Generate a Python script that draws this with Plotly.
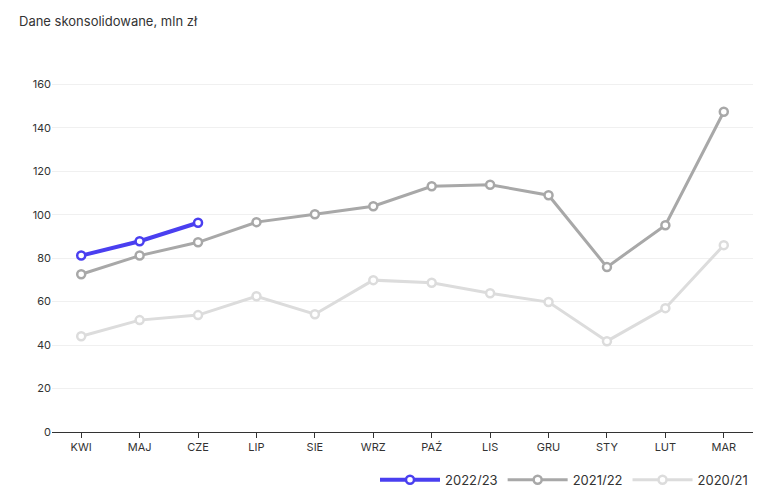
import plotly.graph_objects as go

months = ["KWI","MAJ","CZE","LIP","SIE","WRZ","PAŹ","LIS","GRU","STY","LUT","MAR"]
s2223 = [81.2, 87.8, 96.3]
s2122 = [72.6, 81.2, 87.3, 96.6, 100.2, 103.9, 113.1, 113.8, 109.0, 75.9, 95.2, 147.4]
s2021 = [44.1, 51.5, 53.8, 62.5, 54.2, 69.9, 68.7, 63.9, 59.8, 41.8, 57.0, 86.0]

fig = go.Figure()
for name, vals, col, w in [("2020/21", s2021, "#dcdcdc", 3),
                           ("2021/22", s2122, "#a8a8a8", 3),
                           ("2022/23", s2223, "#4a3ff0", 4)]:
    fig.add_trace(go.Scatter(x=months[:len(vals)], y=vals, name=name, mode="lines+markers",
                             line=dict(color=col, width=w),
                             marker=dict(size=8, color="white", line=dict(color=col, width=2.5))))

fig.add_annotation(text="<b>MIESIĘCZNE PRZYCHODY GRUPY GRODNO S.A</b>", xref="paper", yref="paper",
                   x=-0.05, y=1.19, xanchor="left", yanchor="middle", showarrow=False,
                   font=dict(size=14, color="#111"))
fig.add_annotation(text="Dane skonsolidowane, mln zł", xref="paper", yref="paper",
                   x=-0.05, y=1.125, xanchor="left", yanchor="middle", showarrow=False,
                   font=dict(size=13, color="#333"))

fig.update_layout(
    width=770, height=485, plot_bgcolor="white", paper_bgcolor="white",
    font=dict(family="Inter, Lato, sans-serif", size=11, color="#333"),
    margin=dict(l=44, r=25, t=59, b=61, autoexpand=False),
    xaxis=dict(showgrid=False, showline=True, linecolor="#333", ticks="outside", ticklen=5,
               tickcolor="#333", categoryorder="array", categoryarray=months, range=[-0.5, 11.5],
               automargin=False),
    yaxis=dict(range=[0, 168], dtick=20, gridcolor="#f0f0f0", zeroline=False, showline=False,
               automargin=False),
    legend=dict(orientation="h", x=1, xanchor="right", y=-0.09, yanchor="top",
                traceorder="reversed", font=dict(size=13), itemwidth=60),
)
fig.write_html("out.html")
